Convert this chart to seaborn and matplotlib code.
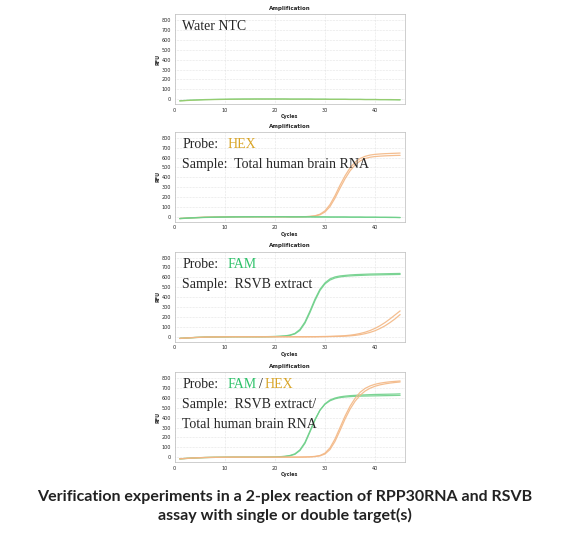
import matplotlib
matplotlib.use("Agg")
import matplotlib.pyplot as plt
import seaborn as sns

cycles = list(range(1, 46))
ntc_a = [-15,-12,-9,-7,-5,-3,-2,-1,0,0,1,2,2,3,3,3,3,3,3,3,3,3,2,2,2,2,2,1,1,1,0,0,0,0,-1,-1,-1,-2,-2,-2,-3,-3,-3,-4,-5]
ntc_b = [-17,-14,-11,-9,-7,-5,-4,-3,-2,-1,0,0,1,1,1,2,2,2,2,2,2,2,1,1,1,1,1,0,0,0,-1,-1,-1,-1,-2,-2,-2,-3,-3,-3,-4,-4,-5,-5,-6]
hex2_a = [-15,-12,-9,-6,-4,-2,-1,0,0,1,1,2,2,2,2,2,2,2,2,2,2,2,2,2,2,3,5,10,22,50,105,190,290,385,465,525,565,590,603,610,614,617,619,621,622]
hex2_b = [-16,-13,-10,-7,-5,-3,-2,-1,0,0,1,1,1,1,1,1,1,1,1,1,1,1,1,1,2,3,6,12,28,62,125,215,320,415,495,553,590,612,625,632,636,639,641,643,645]
fam3_a = [-15,-12,-9,-6,-4,-2,-1,0,0,1,1,2,2,2,2,2,2,2,3,4,6,10,18,35,75,150,260,380,480,545,585,605,615,620,625,628,630,632,634,635,636,637,638,639,640]
fam3_b = [-16,-13,-10,-7,-5,-3,-2,-1,0,0,1,1,1,1,1,1,1,2,2,3,5,8,15,30,65,138,245,365,468,535,573,594,605,611,615,618,620,622,624,625,626,627,628,629,630]
hex3_a = [-15,-12,-9,-6,-4,-2,-1,0,0,1,1,1,1,1,1,1,1,1,1,1,1,1,1,1,1,1,1,1,2,2,3,4,5,7,10,15,22,32,45,62,85,112,145,182,225]
hex3_b = [-16,-13,-10,-7,-5,-3,-2,-1,0,0,1,1,1,1,1,1,1,1,1,1,1,1,1,1,1,1,2,2,3,4,5,7,9,12,17,24,34,47,64,86,113,145,182,222,262]
fam4_a = [-15,-12,-9,-6,-4,-2,-1,0,0,1,1,2,2,2,2,2,2,2,3,4,6,10,18,35,75,150,265,380,475,535,570,590,602,608,612,615,617,618,619,620,621,622,623,624,625]
fam4_b = [-16,-13,-10,-7,-5,-3,-2,-1,0,0,1,1,1,1,1,1,1,2,2,3,5,8,15,30,68,140,255,375,475,540,578,598,610,617,622,625,628,630,632,634,635,636,637,638,640]
hex4_a = [-15,-12,-9,-6,-4,-2,-1,0,0,1,1,2,2,2,2,2,2,2,2,2,2,2,2,2,2,3,5,9,18,42,95,185,300,415,515,595,655,695,720,737,748,756,762,766,770]
hex4_b = [-16,-13,-10,-7,-5,-3,-2,-1,0,0,1,1,1,1,1,1,1,1,1,1,1,1,1,1,2,3,4,7,14,33,78,160,270,385,485,565,625,668,697,717,731,741,749,755,760]

green = "#6fd08a"
orange = "#f3b784"
panels = [
    [(ntc_a, green), (ntc_b, "#9acb6a")],
    [(hex2_a, orange), (hex2_b, orange), (ntc_a, green), (ntc_b, green)],
    [(fam3_a, green), (fam3_b, green), (hex3_a, orange), (hex3_b, orange)],
    [(fam4_a, green), (fam4_b, green), (hex4_a, orange), (hex4_b, orange)],
]

sns.set_style("white")
fig = plt.figure(figsize=(5.69, 5.4), dpi=100)
bottoms = [0.807, 0.589, 0.367, 0.144]
serif = "Liberation Serif"
G = "#2ec26a"
H = "#d9a528"
for i, (b, curves) in enumerate(zip(bottoms, panels)):
    ax = fig.add_axes([0.307, b, 0.405, 0.167])
    for ys, c in curves:
        sns.lineplot(x=cycles, y=ys, color=c, lw=0.9, ax=ax, alpha=0.9)
    ax.set_xlim(0, 46)
    ax.set_ylim(-50, 860)
    ax.set_yticks(range(0, 801, 100))
    ax.set_xticks(range(0, 41, 10))
    ax.tick_params(labelsize=3.5, length=1.5, pad=1)
    ax.grid(True, ls=":", lw=0.4, color="#cccccc")
    for s in ax.spines.values():
        s.set_color("#bbbbbb"); s.set_linewidth(0.5)
    ax.set_title("Amplification", fontsize=4, fontweight="bold", pad=3)
    ax.set_xlabel("Cycles", fontsize=3.5, fontweight="bold", labelpad=1)
    ax.set_ylabel("RFU", fontsize=3.5, fontweight="bold", labelpad=1)
    fs = 10
    kw = dict(fontsize=fs, family=serif, va="center")
    if i == 0:
        ax.text(1.5, 730, "Water NTC", **kw)
    elif i == 1:
        ax.text(1.5, 730, "Probe:", **kw)
        ax.text(10.5, 730, "HEX", color=H, **kw)
        ax.text(1.5, 530, "Sample:  Total human brain RNA", **kw)
    elif i == 2:
        ax.text(1.5, 730, "Probe:", **kw)
        ax.text(10.5, 730, "FAM", color=G, **kw)
        ax.text(1.5, 530, "Sample:  RSVB extract", **kw)
    else:
        ax.text(1.5, 730, "Probe:", **kw)
        ax.text(10.5, 730, "FAM", color=G, **kw)
        ax.text(16.8, 730, "/", **kw)
        ax.text(18.0, 730, "HEX", color=H, **kw)
        ax.text(1.5, 530, "Sample:  RSVB extract/", **kw)
        ax.text(1.5, 330, "Total human brain RNA", **kw)

fig.text(0.5, 0.062, "Verification experiments in a 2-plex reaction of RPP30RNA and RSVB\nassay with single or double target(s)",
         ha="center", va="center", fontsize=11.5, fontweight="bold", family="Lato", color="#222222", linespacing=1.3)
fig.savefig("out.png", dpi=100)
